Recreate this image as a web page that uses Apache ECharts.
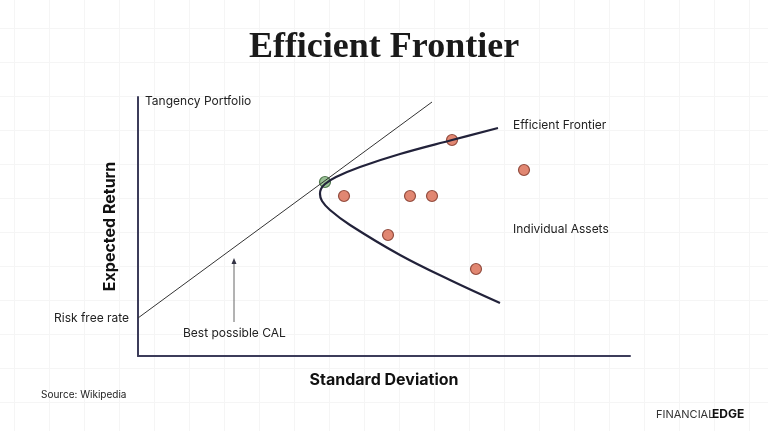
<!DOCTYPE html>
<html><head><meta charset="utf-8">
<script src="https://cdn.jsdelivr.net/npm/echarts@6/dist/echarts.min.js"></script>
<style>
html,body{margin:0;padding:0;background:#fff;}
#c{width:768px;height:431px;
background-image:linear-gradient(#f5f5f5 1px,transparent 1px),linear-gradient(90deg,#f5f5f5 1px,transparent 1px);
background-size:35px 34px;background-position:14px 28px;}
</style></head><body><div id="c"></div>
<script>
const frontier = [[360,228],[314,216],[262,202],[222,189],[198,179],[187,172],[183,167],[182,162],[184,155],[192,146],[212,131],[262,101],[312,76],[362,53]];
const calLine = [[0,38],[294,254]];
const tangency = [[187,174]];
const assets = [[314,216],[386,186],[206,160],[272,160],[294,160],[250,121],[338,87]];
const chart = echarts.init(document.getElementById('c'));
const f = 'Inter, "Noto Sans", sans-serif';
chart.setOption({
  animation:false,
  title:{text:'Efficient Frontier',left:'center',top:25,textStyle:{fontFamily:'"Liberation Serif", serif',fontSize:36,fontWeight:'bold',color:'#1a1a1a'}},
  grid:{left:138,right:138,top:97,bottom:75},
  xAxis:{type:'value',min:0,max:492,axisLine:{show:true,lineStyle:{color:'#3c3c5a',width:2}},axisTick:{show:false},axisLabel:{show:false},splitLine:{show:false},
    name:'Standard Deviation',nameLocation:'middle',nameGap:16,nameTextStyle:{fontFamily:f,fontWeight:'bold',fontSize:16,color:'#111'}},
  yAxis:{type:'value',min:0,max:259,axisLine:{show:true,lineStyle:{color:'#3c3c5a',width:2}},axisTick:{show:false},axisLabel:{show:false},splitLine:{show:false},
    name:'Expected Return',nameLocation:'middle',nameGap:20,nameRotate:90,nameTextStyle:{fontFamily:f,fontWeight:'bold',fontSize:16,color:'#111'}},
  series:[
    {type:'line',data:calLine,symbol:'none',lineStyle:{color:'#333',width:1}},
    {type:'line',data:frontier,smooth:0.4,symbol:'none',lineStyle:{color:'#22223a',width:2.2}},
    {type:'scatter',data:assets,symbolSize:11,itemStyle:{color:'#d9694f',borderColor:'#7a2f22',borderWidth:1.2}},
    {type:'scatter',data:tangency,symbolSize:11,itemStyle:{color:'#7fb27a',borderColor:'#2f5a2d',borderWidth:1.2}}
  ],
  graphic:[
    {type:'text',left:145,top:95,style:{text:'Tangency Portfolio',font:'12px '+f,fill:'#222'}},
    {type:'text',left:513,top:119,style:{text:'Efficient Frontier',font:'12px '+f,fill:'#222'}},
    {type:'text',left:513,top:223,style:{text:'Individual Assets',font:'12px '+f,fill:'#222'}},
    {type:'text',left:54,top:312,style:{text:'Risk free rate',font:'12px '+f,fill:'#222'}},
    {type:'text',left:183,top:327,style:{text:'Best possible CAL',font:'12px '+f,fill:'#222'}},
    {type:'line',shape:{x1:234,y1:322,x2:234,y2:262},style:{stroke:'#666',lineWidth:1}},
    {type:'polygon',shape:{points:[[234,258],[231.5,264],[236.5,264]]},style:{fill:'#334'}},
    {type:'text',left:41,top:390,style:{text:'Source: Wikipedia',font:'10px '+f,fill:'#222'}},
    {type:'text',left:656,top:409,style:{text:'FINANCIAL',font:'11px '+f,fill:'#333'}},
    {type:'text',left:712,top:408,style:{text:'EDGE',font:'bold 12px '+f,fill:'#111'}}
  ]
});
</script></body></html>
